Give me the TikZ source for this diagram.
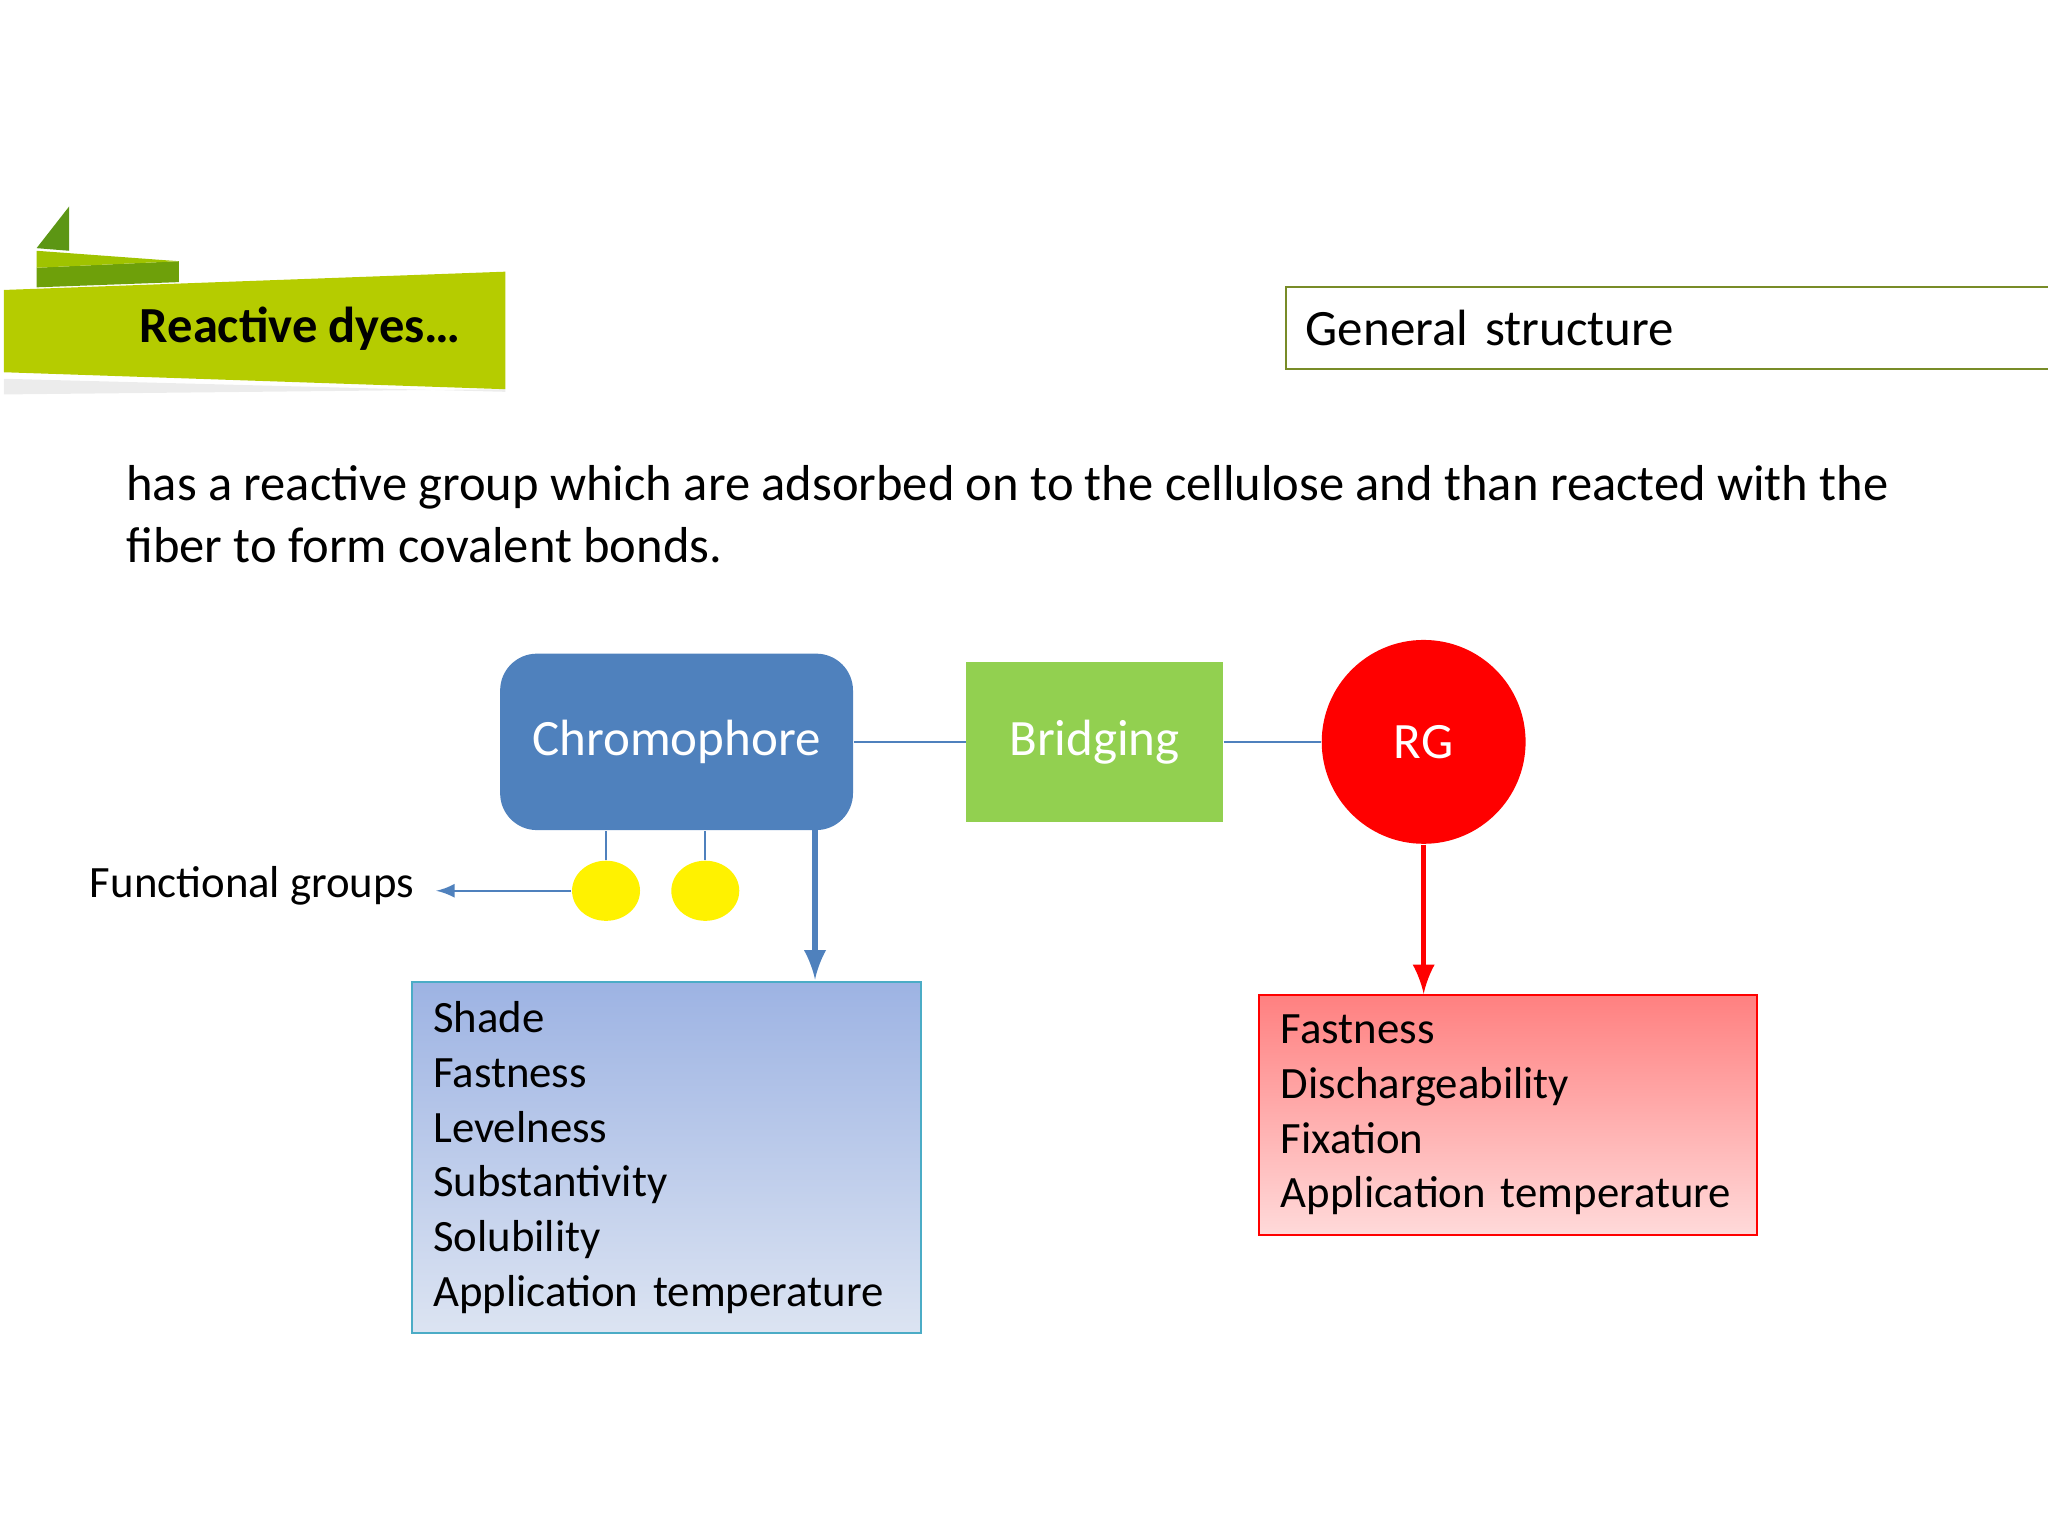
\documentclass[tikz,border=0pt]{standalone}
\usepackage{fontspec}
\setmainfont{Carlito}
\usetikzlibrary{positioning,shapes.geometric}
\begin{document}
\begin{tikzpicture}[x=0.01cm,y=-0.01cm,>=latex]

\tikzstyle{chrom} = [rectangle, rounded corners=8pt, minimum width=2.7cm, minimum height=1.35cm, fill={rgb,255:red,79;green,129;blue,189}, text=white, font=\fontsize{11.1}{14}\selectfont]
\tikzstyle{bridge} = [rectangle, minimum width=1.96cm, minimum height=1.23cm, fill={rgb,255:red,146;green,208;blue,80}, text=white, font=\fontsize{11.1}{14}\selectfont]
\tikzstyle{rg} = [circle, minimum size=1.56cm, fill=red, text=white, font=\fontsize{11.1}{14}\selectfont]
\tikzstyle{dot} = [ellipse, minimum width=0.52cm, minimum height=0.46cm, fill=yellow, inner sep=0]
\tikzstyle{list} = [rectangle, anchor=north west, align=left, font=\fontsize{9.75}{11.9}\selectfont]
\tikzstyle{link} = [draw={rgb,255:red,79;green,129;blue,189}]

\useasboundingbox (0,0) rectangle (1568,1176);

% banner
\fill[gray!15] (3,290) -- (387,300) -- (387,298) -- (3,302) -- cycle;
\fill[fill={rgb,255:red,92;green,150;blue,20}] (28,190) -- (53,158) -- (53,192) -- cycle;
\fill[fill={rgb,255:red,110;green,160;blue,10}] (28,205) -- (137,200) -- (137,216) -- (28,220) -- cycle;
\fill[fill={rgb,255:red,160;green,195;blue,0}] (28,192) -- (137,200) -- (28,205) -- cycle;
\fill[fill={rgb,255:red,181;green,204;blue,0}] (3,222) -- (387,208) -- (387,298) -- (3,285) -- cycle;
\node[font=\fontsize{11}{13}\selectfont\bfseries] (title) at (230,252) {Reactive dyes…};

% heading box
\node[draw={rgb,255:red,120;green,140;blue,40}, minimum width=5.82cm, minimum height=0.63cm, anchor=north west, text width=5.6cm, inner xsep=0.15cm, align=left, font=\fontsize{11.1}{14}\selectfont] (gen) at (984,219) {General structure};

\node[anchor=north west, align=left, inner sep=0, font=\fontsize{11}{13.4}\selectfont] (intro) at (96,356) {has a reactive group which are adsorbed on to the cellulose and than reacted with the\\fiber to form covalent bonds.};

\node[chrom] (C) at (518,568) {Chromophore};
\node[bridge] (B) at (838,568) {Bridging};
\node[rg] (R) at (1090,568) {RG};
\node[dot] (Y1) at (464,682) {};
\node[dot] (Y2) at (540,682) {};
\node[font=\fontsize{9.75}{12}\selectfont, anchor=east, inner sep=0] (F) at (318,678) {Functional groups};
\coordinate (Fa) at (334,682);

\draw[link] (C) -- (B);
\draw[link] (B) -- (R);
\draw[link] (Y1 |- C.south) -- (Y1);
\draw[link] (Y2 |- C.south) -- (Y2);
\draw[link,->] (Y1.west) -- (Fa);

\node[list, draw={rgb,255:red,75;green,172;blue,198}, top color={rgb,255:red,157;green,179;blue,227}, bottom color={rgb,255:red,220;green,228;blue,242}, minimum width=3.89cm, minimum height=2.69cm, text width=3.57cm, inner xsep=0.16cm, inner ysep=0.1cm] (P) at (315,751) {Shade\\Fastness\\Levelness\\Substantivity\\Solubility\\Application temperature};
\node[list, draw=red, top color={rgb,255:red,255;green,128;blue,128}, bottom color={rgb,255:red,255;green,218;blue,218}, minimum width=3.81cm, minimum height=1.84cm, text width=3.47cm, inner xsep=0.17cm, inner ysep=0.14cm] (Q) at (963,761) {Fastness\\Dischargeability\\Fixation\\Application temperature};

\draw[link, very thick, ->] (624,635) -- (624,750);
\draw[red, very thick, ->] (R.south) -- (R.south |- Q.north);
\end{tikzpicture}
\end{document}
